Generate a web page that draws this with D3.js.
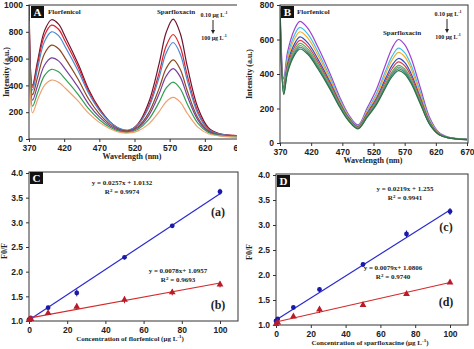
<!DOCTYPE html>
<html>
<head>
<meta charset="utf-8">
<script src="https://cdn.jsdelivr.net/npm/d3@7"></script>
<style>
  body { margin: 0; background: #fff; }
  svg { display: block; font-family: "Liberation Serif", "Times New Roman", serif; font-weight: bold; }
  .tick text { font-size: 8.5px; font-weight: bold; fill: #222; }
  .tick line { stroke: #333; }
  .frame { fill: none; stroke: #333; stroke-width: 1; }
  .ttl { font-size: 8px; fill: #222; }
</style>
</head>
<body>
<script>
// ---------- data ----------
// panel A: emission spectra (florfenicol series)
var wavesA = [370, 375, 382, 392, 402, 412, 422, 440, 455, 470, 485, 500, 512, 525, 540, 555, 565, 575, 585, 595, 610, 625, 640, 670];
var colorsA = ["#6b1530", "#e0202a", "#4a8ad0", "#8b4a20", "#7a40a0", "#30a050", "#f0a070"];
var spectraA = [
  [1100, 400, 575, 807, 890, 857, 758, 559, 368, 228, 128, 72, 62, 112, 270, 562, 795, 895, 789, 543, 235, 85, 41, 25],
  [1080, 385, 552, 772, 850, 819, 724, 536, 355, 222, 128, 74, 65, 108, 244, 494, 694, 780, 688, 474, 206, 76, 38, 25],
  [1040, 365, 522, 727, 800, 771, 683, 507, 339, 214, 127, 76, 68, 107, 231, 459, 642, 720, 635, 438, 191, 71, 36, 22],
  [1000, 330, 457, 636, 700, 674, 598, 444, 297, 188, 111, 67, 60, 92, 193, 378, 526, 590, 521, 360, 159, 61, 32, 20],
  [960, 290, 396, 550, 605, 583, 517, 385, 259, 165, 99, 61, 55, 83, 173, 337, 469, 525, 464, 321, 143, 56, 30, 18],
  [920, 245, 341, 473, 520, 501, 445, 332, 224, 144, 88, 55, 50, 73, 144, 275, 380, 425, 376, 261, 118, 48, 27, 15],
  [880, 195, 290, 401, 440, 424, 377, 282, 191, 124, 77, 49, 45, 61, 111, 204, 278, 310, 275, 192, 89, 39, 24, 12]
];

// panel B: emission spectra (sparfloxacin series)
var wavesB = [370, 376, 382, 393, 402, 415, 431, 450, 465, 480, 495, 510, 525, 540, 550, 560, 570, 580, 595, 610, 625, 640, 670];
var colorsB = ["#a040d0", "#40c0e8", "#f0b030", "#3050c0", "#e04050", "#50b060", "#909070", "#309090", "#307040"];
var spectraB = [
  [800, 370, 525, 657, 705, 663, 555, 405, 273, 165, 105, 204, 313, 461, 551, 600, 571, 496, 322, 148, 61, 35, 22],
  [800, 345, 499, 624, 670, 630, 528, 385, 260, 157, 100, 190, 289, 424, 505, 550, 524, 455, 296, 137, 57, 33, 22],
  [790, 330, 481, 601, 645, 607, 508, 372, 251, 153, 98, 183, 277, 405, 482, 525, 500, 434, 283, 131, 55, 33, 21],
  [780, 320, 459, 573, 615, 579, 485, 355, 241, 147, 95, 174, 261, 379, 451, 490, 467, 405, 264, 123, 53, 32, 21],
  [770, 310, 444, 555, 595, 560, 469, 344, 233, 142, 92, 168, 251, 364, 432, 470, 448, 389, 254, 119, 52, 31, 20],
  [760, 300, 432, 539, 578, 544, 456, 334, 227, 139, 90, 162, 241, 349, 414, 450, 429, 373, 244, 115, 50, 31, 20],
  [750, 292, 422, 527, 565, 532, 446, 327, 222, 136, 88, 158, 236, 341, 405, 440, 419, 364, 238, 112, 49, 30, 20],
  [740, 285, 414, 517, 555, 522, 438, 320, 217, 132, 85, 154, 230, 333, 396, 430, 410, 356, 233, 110, 49, 30, 19],
  [730, 280, 406, 508, 545, 513, 429, 314, 212, 128, 82, 150, 224, 325, 386, 420, 400, 348, 228, 108, 48, 30, 19]
];

// panels C and D: calibration
var conc = [0, 1, 10, 25, 50, 75, 100];
var florA = [1.03, 1.06, 1.27, 1.57, 2.29, 2.93, 3.62];
var florAerr = [0.02, 0.03, 0.04, 0.07, 0.04, 0.04, 0.06];
var florB = [1.02, 1.04, 1.16, 1.29, 1.43, 1.58, 1.74];
var florBerr = [0.02, 0.02, 0.04, 0.06, 0.07, 0.06, 0.06];
var fitC = [[1.02, 3.58], [1.06, 1.77]]; // trendline values at x = 0 and x = 100

var sparC = [1.08, 1.12, 1.35, 1.71, 2.21, 2.82, 3.27];
var sparCerr = [0.03, 0.03, 0.03, 0.05, 0.04, 0.07, 0.07];
var sparD = [1.02, 1.05, 1.17, 1.31, 1.40, 1.62, 1.85];
var sparDerr = [0.02, 0.02, 0.02, 0.07, 0.03, 0.02, 0.02];
var fitD = [[1.1, 3.3], [1.06, 1.85]];

var wlTicks = [370, 420, 470, 520, 570, 620, 670];
var concTicks = [0, 20, 40, 60, 80, 100];
var ratioTicks = [1.0, 1.5, 2.0, 2.5, 3.0, 3.5, 4.0];

var svg = d3.select("body").append("svg").attr("width", 474).attr("height", 349);
var defs = svg.append("defs");

function axes(g, x, y, xt, yt, yfmt) {
  g.append("g").attr("transform", "translate(0," + y.range()[0] + ")")
    .call(d3.axisBottom(x).tickValues(xt).tickSize(3).tickPadding(3).tickFormat(d3.format("d")))
    .call(function (a) { a.select(".domain").remove(); });
  g.append("g").attr("transform", "translate(" + x.range()[0] + ",0)")
    .call(d3.axisLeft(y).tickValues(yt).tickSize(3).tickPadding(3).tickFormat(yfmt))
    .call(function (a) { a.select(".domain").remove(); });
}

function frame(g, x0, y0, x1, y1) {
  g.append("rect").attr("class", "frame")
    .attr("x", x0).attr("y", y0).attr("width", x1 - x0).attr("height", y1 - y0);
}

function letterBox(g, x, y, s) {
  g.append("rect").attr("x", x).attr("y", y).attr("width", 13).attr("height", 12).attr("fill", "#111");
  g.append("text").attr("x", x + 6.5).attr("y", y + 10).attr("text-anchor", "middle")
    .attr("fill", "#fff").style("font-size", "11px").text(s);
}

function unitText(g, x, y, pre, size) {
  var t = g.append("text").attr("x", x).attr("y", y).attr("text-anchor", "middle")
    .style("font-size", size + "px").attr("fill", "#222");
  t.append("tspan").text(pre + "\u03bcg L");
  t.append("tspan").attr("dy", -3).style("font-size", (size - 2) + "px").text("-1");
  return t;
}

function rangeNote(g, x, y) {
  unitText(g, x, y, "0.10 ", 6);
  g.append("line").attr("x1", x - 1).attr("x2", x - 1).attr("y1", y + 3).attr("y2", y + 14)
    .attr("stroke", "#222").attr("stroke-width", 1);
  g.append("path").attr("d", "M" + (x - 3) + "," + (y + 13) + "L" + (x + 1) + "," + (y + 13) + "L" + (x - 1) + "," + (y + 17) + "Z")
    .attr("fill", "#222");
  unitText(g, x, y + 23, "100 ", 6);
}

function spectraPanel(g, waves, data, colors, x, y, clipId) {
  var line = d3.line().x(function (d, i) { return x(waves[i]); }).y(function (d) { return y(d); })
    .curve(d3.curveCatmullRom.alpha(0.5));
  defs.append("clipPath").attr("id", clipId).append("rect")
    .attr("x", x.range()[0]).attr("y", y.range()[1])
    .attr("width", x.range()[1] - x.range()[0]).attr("height", y.range()[0] - y.range()[1]);
  g.append("g").attr("clip-path", "url(#" + clipId + ")")
    .selectAll("path").data(data).join("path")
    .attr("d", line).attr("fill", "none")
    .attr("stroke", function (d, i) { return colors[i]; }).attr("stroke-width", 1.2);
}

// ---------- panel A ----------
defs.append("clipPath").attr("id", "cutA").append("rect").attr("x", 0).attr("y", 0).attr("width", 237).attr("height", 170);
var gA = svg.append("g").attr("clip-path", "url(#cutA)");
var xA = d3.scaleLinear().domain([370, 670]).range([29, 240]);
var yA = d3.scaleLinear().domain([0, 1000]).range([139, 5]);
spectraPanel(gA, wavesA, spectraA, colorsA, xA, yA, "clipA");
axes(gA, xA, yA, wlTicks, [0, 200, 400, 600, 800, 1000], d3.format("d"));
frame(gA, 29, 5, 240, 139);
letterBox(gA, 31, 6, "A");
gA.append("text").attr("x", 48).attr("y", 14).style("font-size", "7px").attr("fill", "#222").text("Florfenicol");
gA.append("text").attr("x", 176).attr("y", 14).attr("text-anchor", "middle").style("font-size", "7px").attr("fill", "#222").text("Sparfloxacin");
rangeNote(gA, 214, 17);
gA.append("text").attr("class", "ttl").attr("x", 132).attr("y", 159).attr("text-anchor", "middle").text("Wavelength (nm)");
gA.append("text").attr("class", "ttl").attr("transform", "translate(9,72) rotate(-90)").attr("text-anchor", "middle").text("Intensity (a.u.)");

// ---------- panel B ----------
var gB = svg.append("g");
var xB = d3.scaleLinear().domain([370, 670]).range([280, 467]);
var yB = d3.scaleLinear().domain([0, 800]).range([143, 5]);
spectraPanel(gB, wavesB, spectraB, colorsB, xB, yB, "clipB");
axes(gB, xB, yB, wlTicks, [0, 200, 400, 600, 800], d3.format("d"));
frame(gB, 280, 5, 468, 143);
letterBox(gB, 281, 6, "B");
gB.append("text").attr("x", 297).attr("y", 14).style("font-size", "7px").attr("fill", "#222").text("Florfenicol");
gB.append("text").attr("x", 402).attr("y", 35).attr("text-anchor", "middle").style("font-size", "7px").attr("fill", "#222").text("Sparfloxacin");
rangeNote(gB, 448, 16);
gB.append("text").attr("class", "ttl").attr("x", 373).attr("y", 163).attr("text-anchor", "middle").text("Wavelength (nm)");
gB.append("text").attr("class", "ttl").attr("transform", "translate(252,74) rotate(-90)").attr("text-anchor", "middle").text("Intensity (a.u.)");

// ---------- calibration panels ----------
function calPanel(g, x, y, sets, fits) {
  var ln = d3.line().x(function (d) { return x(d[0]); }).y(function (d) { return y(d[1]); });
  sets.forEach(function (s, k) {
    g.append("path").datum([[0, fits[k][0]], [100, fits[k][1]]]).attr("d", ln)
      .attr("fill", "none").attr("stroke", s.line).attr("stroke-width", 1.2);
    g.append("g").selectAll("line").data(s.vals).join("line")
      .attr("x1", function (d, i) { return x(conc[i]); }).attr("x2", function (d, i) { return x(conc[i]); })
      .attr("y1", function (d, i) { return y(d - s.err[i]); }).attr("y2", function (d, i) { return y(d + s.err[i]); })
      .attr("stroke", s.color).attr("stroke-width", 1);
    g.append("g").selectAll("path").data(s.vals).join("path")
      .attr("transform", function (d, i) { return "translate(" + x(conc[i]) + "," + y(d) + ")"; })
      .attr("d", d3.symbol(s.sym).size(s.size)).attr("fill", s.color);
  });
}

function eqText(g, x, y, a, b) {
  g.append("text").attr("x", x).attr("y", y).attr("text-anchor", "middle").style("font-size", "7px").attr("fill", "#222").text(a);
  var t = g.append("text").attr("x", x).attr("y", y + 9).attr("text-anchor", "middle").style("font-size", "7px").attr("fill", "#222");
  t.append("tspan").text("R");
  t.append("tspan").attr("dy", -2).style("font-size", "5px").text("2");
  t.append("tspan").attr("dy", 2).text(" = " + b);
}

function concTitle(g, x, y, name) {
  var t = g.append("text").attr("x", x).attr("y", y).attr("text-anchor", "middle").style("font-size", "7px").attr("fill", "#222");
  t.append("tspan").text("Concentration of  " + name + " (\u03bcg L");
  t.append("tspan").attr("dy", -3).style("font-size", "5px").text("-1");
  t.append("tspan").attr("dy", 3).text(")");
}

// panel C
var gC = svg.append("g");
var xC = d3.scaleLinear().domain([0, 100]).range([29, 220]);
var yC = d3.scaleLinear().domain([1, 4]).range([321, 173]);
axes(gC, xC, yC, concTicks, ratioTicks, d3.format(".1f"));
frame(gC, 29, 172, 238, 321);
calPanel(gC, xC, yC, [
  { vals: florA, err: florAerr, color: "#1a1aa8", line: "#2a2ad0", sym: d3.symbolCircle, size: 18 },
  { vals: florB, err: florBerr, color: "#b81c28", line: "#d42a2a", sym: d3.symbolTriangle, size: 20 }
], fitC);
letterBox(gC, 30, 172, "C");
eqText(gC, 122, 185, "y = 0.0257x + 1.0132", "0.9974");
eqText(gC, 178, 273, "y = 0.0078x+ 1.0957", "0.9693");
gC.append("text").attr("x", 218).attr("y", 216).attr("text-anchor", "middle").style("font-size", "12px").attr("fill", "#222").text("(a)");
gC.append("text").attr("x", 218).attr("y", 309).attr("text-anchor", "middle").style("font-size", "12px").attr("fill", "#222").text("(b)");
concTitle(gC, 130, 341, "florfenicol");
gC.append("text").attr("class", "ttl").attr("transform", "translate(7,251) rotate(-90)").attr("text-anchor", "middle").text("F0/F");

// panel D
var gD = svg.append("g");
var xD = d3.scaleLinear().domain([0, 100]).range([276, 450]);
var yD = d3.scaleLinear().domain([1, 4]).range([325, 175]);
axes(gD, xD, yD, concTicks, ratioTicks, d3.format(".1f"));
frame(gD, 276, 174, 468, 325);
calPanel(gD, xD, yD, [
  { vals: sparC, err: sparCerr, color: "#1a1aa8", line: "#2a2ad0", sym: d3.symbolCircle, size: 18 },
  { vals: sparD, err: sparDerr, color: "#b81c28", line: "#d42a2a", sym: d3.symbolTriangle, size: 20 }
], fitD);
letterBox(gD, 277, 175, "D");
eqText(gD, 405, 191, "y = 0.0219x + 1.255", "0.9941");
eqText(gD, 393, 270, "y = 0.0079x+ 1.0806", "0.9740");
gD.append("text").attr("x", 446).attr("y", 231).attr("text-anchor", "middle").style("font-size", "12px").attr("fill", "#222").text("(c)");
gD.append("text").attr("x", 446).attr("y", 306).attr("text-anchor", "middle").style("font-size", "12px").attr("fill", "#222").text("(d)");
concTitle(gD, 370, 345, "sparfloxacine");
gD.append("text").attr("class", "ttl").attr("transform", "translate(252,252) rotate(-90)").attr("text-anchor", "middle").text("F0/F");
</script>
</body>
</html>
